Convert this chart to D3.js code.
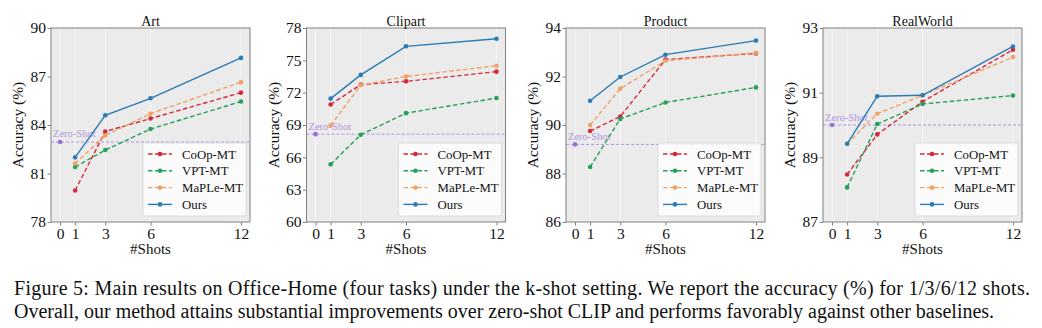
<!DOCTYPE html>
<html>
<head>
<meta charset="utf-8">
<script src="https://cdn.jsdelivr.net/npm/d3@7"></script>
<style>
  html, body { margin: 0; padding: 0; background: #fff; }
  svg { display: block; }
  svg text { font-family: "Liberation Serif", "Times New Roman", Times, "DejaVu Serif", serif; }
</style>
</head>
<body>
<svg id="fig" width="1042" height="328"></svg>
<script>
// Number of shots on the x axis
const shots = [1, 3, 6, 12];
const xTicks = [0, 1, 3, 6, 12];

// Panel titles
const tasks = ["Art", "Clipart", "Product", "RealWorld"];

// Accuracy (%) per task, one array per method
const coopArt      = [79.95, 83.6, 84.4, 86.0];
const vptArt       = [81.4, 82.45, 83.75, 85.45];
const mapleArt     = [81.62, 83.35, 84.7, 86.65];
const oursArt      = [82.0, 84.6, 85.65, 88.15];

const coopClipart  = [70.9, 72.75, 73.05, 73.95];
const vptClipart   = [65.35, 68.1, 70.1, 71.5];
const mapleClipart = [68.95, 72.7, 73.5, 74.5];
const oursClipart  = [71.45, 73.65, 76.3, 77.0];

const coopProduct  = [89.75, 90.35, 92.7, 92.95];
const vptProduct   = [88.27, 90.25, 90.93, 91.55];
const mapleProduct = [90.0, 91.5, 92.65, 92.98];
const oursProduct  = [91.0, 91.98, 92.9, 93.48];

const coopReal     = [88.47, 89.71, 90.72, 92.33];
const vptReal      = [88.07, 90.03, 90.65, 90.91];
const mapleReal    = [89.42, 90.35, 90.92, 92.1];
const oursReal     = [89.42, 90.89, 90.92, 92.43];

// Zero-shot CLIP accuracy per task
const zeroShot = [82.95, 68.15, 89.2, 90.0];

// Y tick labels per task
const yTicksArt     = [78, 81, 84, 87, 90];
const yTicksClipart = [60, 63, 66, 69, 72, 75, 78];
const yTicksProduct = [86, 88, 90, 92, 94];
const yTicksReal    = [87, 89, 91, 93];

const methodNames = ["CoOp-MT", "VPT-MT", "MaPLe-MT", "Ours"];

const panelData = [
  { values: [coopArt, vptArt, mapleArt, oursArt], yTicks: yTicksArt },
  { values: [coopClipart, vptClipart, mapleClipart, oursClipart], yTicks: yTicksClipart },
  { values: [coopProduct, vptProduct, mapleProduct, oursProduct], yTicks: yTicksProduct },
  { values: [coopReal, vptReal, mapleReal, oursReal], yTicks: yTicksReal }
];

// Styling
const methodStyle = [
  { color: "#d62839", dash: "4.5,2.5" },
  { color: "#26a05a", dash: "4.5,2.5" },
  { color: "#eea265", dash: "4.5,2.5" },
  { color: "#2b7bb4", dash: null }
];
const zeroColor = "#b595e0";
const zeroDot = "#9a6fd2";
const serif = "'Liberation Serif', 'Times New Roman', 'DejaVu Serif', serif";

const svg = d3.select("#fig");
const panelLeft = [51, 306.5, 566, 823];
const plotW = 199, plotH = 194, plotTop = 28;

panelData.forEach((p, i) => {
  const g = svg.append("g").attr("transform", `translate(${panelLeft[i]},${plotTop})`);
  const yMin = d3.min(p.yTicks), yMax = d3.max(p.yTicks);
  const x = d3.scaleLinear().domain([-0.6, 12.6]).range([0, plotW]);
  const y = d3.scaleLinear().domain([yMin, yMax]).range([plotH, 0]);

  // background
  g.append("rect").attr("width", plotW).attr("height", plotH).attr("fill", "#ebebeb");

  // faint vertical grid
  g.selectAll("line.grid").data(xTicks).join("line")
    .attr("class", "grid")
    .attr("x1", d => x(d)).attr("x2", d => x(d))
    .attr("y1", 0).attr("y2", plotH)
    .attr("stroke", "#ffffff").attr("stroke-opacity", 0.55).attr("stroke-width", 1);

  const clip = "clip" + i;
  g.append("clipPath").attr("id", clip).append("rect").attr("width", plotW).attr("height", plotH);
  const plot = g.append("g").attr("clip-path", `url(#${clip})`);

  // zero-shot reference
  plot.append("line")
    .attr("x1", 0).attr("x2", plotW)
    .attr("y1", y(zeroShot[i])).attr("y2", y(zeroShot[i]))
    .attr("stroke", zeroColor).attr("stroke-width", 1).attr("stroke-dasharray", "3,2");
  plot.append("circle").attr("cx", x(0)).attr("cy", y(zeroShot[i])).attr("r", 2.3).attr("fill", zeroDot);
  plot.append("text")
    .attr("x", 2).attr("y", y(zeroShot[i]) - 4.5)
    .attr("font-family", serif)
    .attr("font-size", 10.5).attr("fill", zeroColor)
    .text("Zero-Shot");

  // method curves
  const line = d3.line().x((d, k) => x(shots[k])).y(d => y(d));
  p.values.forEach((vals, m) => {
    const st = methodStyle[m];
    plot.append("path").datum(vals)
      .attr("d", line).attr("fill", "none")
      .attr("stroke", st.color).attr("stroke-width", 1.4)
      .attr("stroke-dasharray", st.dash);
    plot.selectAll(null).data(vals).join("circle")
      .attr("cx", (d, k) => x(shots[k])).attr("cy", d => y(d))
      .attr("r", 2.3).attr("fill", st.color);
  });

  // legend
  const lg = g.append("g").attr("transform", `translate(${plotW - 107},${plotH - 79})`);
  lg.append("rect").attr("width", 103).attr("height", 73).attr("rx", 2)
    .attr("fill", "#ffffff").attr("fill-opacity", 0.8).attr("stroke", "#d6d6d6").attr("stroke-width", 0.8);
  methodNames.forEach((name, m) => {
    const st = methodStyle[m];
    const ly = 11 + m * 16.8;
    lg.append("line").attr("x1", 5).attr("x2", 29).attr("y1", ly).attr("y2", ly)
      .attr("stroke", st.color).attr("stroke-width", 1.4).attr("stroke-dasharray", st.dash);
    lg.append("circle").attr("cx", 17).attr("cy", ly).attr("r", 2.3).attr("fill", st.color);
    lg.append("text").attr("x", 39).attr("y", ly + 4.5).attr("font-family", serif)
      .attr("font-size", 12.8).attr("fill", "#111").text(name);
  });

  // frame
  g.append("rect").attr("width", plotW).attr("height", plotH)
    .attr("fill", "none").attr("stroke", "#808080").attr("stroke-width", 1);

  // axes
  const xAxis = g.append("g").attr("transform", `translate(0,${plotH})`)
    .call(d3.axisBottom(x).tickValues(xTicks).tickSize(3.5).tickPadding(2).tickFormat(d3.format("d")));
  const yAxis = g.append("g")
    .call(d3.axisLeft(y).tickValues(p.yTicks).tickSize(3.5).tickPadding(1.5).tickFormat(d3.format("d")));
  [xAxis, yAxis].forEach(a => {
    a.attr("font-family", serif);
    a.select(".domain").remove();
    a.selectAll(".tick line").attr("stroke", "#808080");
    a.selectAll(".tick text").attr("font-family", serif).attr("font-size", 15.5).attr("fill", "#111");
  });

  // titles and axis labels
  g.append("text").attr("x", plotW / 2).attr("y", -2.5).attr("text-anchor", "middle")
    .attr("font-family", serif).attr("font-size", 14).attr("fill", "#111").text(tasks[i]);
  g.append("text").attr("x", plotW / 2).attr("y", plotH + 32).attr("text-anchor", "middle")
    .attr("font-family", serif).attr("font-size", 15).attr("fill", "#111").text("#Shots");
  g.append("text")
    .attr("transform", `translate(${-28},${plotH / 2}) rotate(-90)`)
    .attr("text-anchor", "middle").attr("font-family", serif).attr("font-size", 15.5).attr("fill", "#111")
    .text("Accuracy (%)");
});

// caption
svg.append("text").attr("x", 14).attr("y", 295).attr("font-family", serif)
  .attr("font-size", 20).attr("fill", "#111")
  .attr("textLength", 1016).attr("lengthAdjust", "spacing")
  .text("Figure 5: Main results on Office-Home (four tasks) under the k-shot setting. We report the accuracy (%) for 1/3/6/12 shots.");
svg.append("text").attr("x", 14).attr("y", 318).attr("font-family", serif)
  .attr("font-size", 20).attr("fill", "#111")
  .text("Overall, our method attains substantial improvements over zero-shot CLIP and performs favorably against other baselines.");
</script>
</body>
</html>
